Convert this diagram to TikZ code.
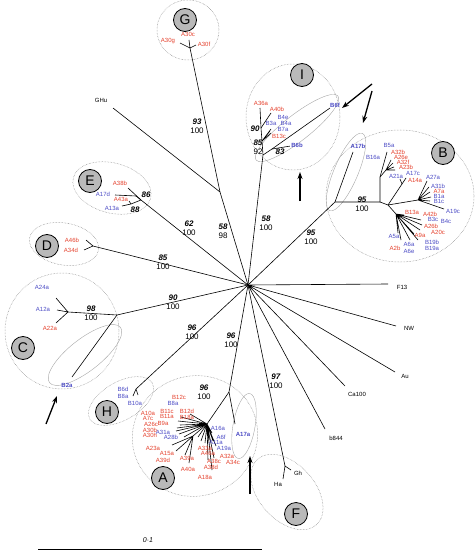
\documentclass[tikz,border=0pt]{standalone}
\usepackage{fontspec}
\setmainfont{Liberation Sans}
\usetikzlibrary{arrows.meta}

\definecolor{cladered}{RGB}{228,64,44}
\definecolor{cladeblue}{RGB}{74,74,196}

\tikzset{
  br/.style={draw=black, line width=0.6pt},
  leaf/.style={inner sep=0.3pt, font=\fontsize{6}{6}\selectfont},
  rl/.style={leaf, text=cladered},
  bl/.style={leaf, text=cladeblue},
  bbl/.style={leaf, text=cladeblue, font=\fontsize{6}{6}\selectfont\bfseries},
  kl/.style={leaf, text=black},
  bs/.style={inner sep=0pt, align=center, font=\fontsize{8}{9}\selectfont},
  bsone/.style={inner sep=0pt, font=\fontsize{8}{9}\selectfont\bfseries\itshape},
  clade/.style={circle, draw=black, line width=0.8pt, fill=gray!55, minimum size=23pt,
    inner sep=0pt, font=\fontsize{14}{14}\selectfont},
  grp/.style={draw=gray, densely dotted, line width=0.5pt},
  inner/.style={draw=gray!70, line width=0.4pt},
  pointer/.style={-{Stealth[length=7pt,width=5pt]}, line width=1.3pt},
}
\newcommand{\bt}[2]{\textbf{\textit{#1}}\\#2}

\begin{document}
\begin{tikzpicture}[x=1pt,y=1pt]
\useasboundingbox (0,0) rectangle (474,-553);

% dotted clusters
\draw[grp] (188,-30) ellipse [x radius=31, y radius=30];
\draw[grp] (293,-117) ellipse [x radius=47, y radius=53];
\draw[grp] (400,-196) ellipse [x radius=74, y radius=66];
\draw[grp] (112,-188) ellipse [x radius=40, y radius=25, rotate=-15];
\draw[grp] (64,-244) ellipse [x radius=35, y radius=21, rotate=-10];
\draw[grp] (62,-331) ellipse [x radius=57, y radius=58];
\draw[grp] (121,-401) ellipse [x radius=36, y radius=19, rotate=30];
\draw[grp] (195,-436) ellipse [x radius=63, y radius=60, rotate=20];
\draw[grp] (287,-492) ellipse [x radius=44, y radius=28, rotate=-48];
% inner grey rings
\draw[inner] (297,-128) ellipse [x radius=52, y radius=13, rotate=38];
\draw[inner] (346,-172) ellipse [x radius=42, y radius=12, rotate=67];
\draw[inner] (85,-355) ellipse [x radius=45, y radius=16, rotate=38];
\draw[inner] (244,-426) ellipse [x radius=33, y radius=11, rotate=80];

\coordinate (hub) at (248,-285);

% G and GHu
\coordinate (gj) at (220,-192);
\coordinate (gr) at (190,-48);
\coordinate (ghu) at (113,-108);
\draw[br] (hub) -- (gj) -- (gr);
\draw[br] (gj) -- (ghu);
\draw[br] (gr) -- (180,-43) (gr) -- (189,-40) (gr) -- (196,-45);
\node[kl] (GHu) at (101,-100) {GHu};
\node[rl] (A30c) at (188,-34) {A30c};
\node[rl] (A30g) at (168,-41) {A30g};
\node[rl] (A30f) at (204,-44) {A30f};
\node[bs] (bs58a) at (223,-231) {\bt{58}{98}};
\node[bs] (bs93) at (197,-126) {\bt{93}{100}};

% I
\coordinate (ir) at (263,-155);
\coordinate (i85) at (262,-141);
\coordinate (i90) at (261,-128);
\coordinate (ia36) at (260,-108);
\coordinate (i83) at (272,-149);
\coordinate (ib6f) at (330,-108);
\draw[br] (hub) -- (ir) -- (i85) -- (i90) -- (ia36);
\draw[br] (i90) -- (271,-113);
\draw[br] (i85) -- (270,-131) (i85) -- (271,-133) (i85) -- (269,-135) (i85) -- (271,-129);
\draw[br] (ir) -- (i83) -- (ib6f);
\node[rl] (A36a) at (261,-103) {A36a};
\node[rl] (A40b) at (277,-109) {A40b};
\node[bl] (B3a) at (271,-123) {B3a};
\node[bl] (B4e) at (283,-117) {B4e};
\node[bl] (B4a) at (286,-123) {B4a};
\node[bl] (B7a) at (283,-129) {B7a};
\node[rl] (B13c) at (279,-136) {B13c};
\node[bbl] (B6f) at (335,-105) {B6f};
\node[bbl] (B6b) at (297,-145) {B6b};
\draw[br, shorten >=1pt] (i83) -- (B6b);
\node[bsone] (bs90i) at (255,-129) {90};
\node[bs] (bs85i) at (258,-147) {\bt{85}{92}};
\node[bsone] (bs83i) at (280,-152) {83};
\node[bs] (bs58b) at (266,-223) {\bt{58}{100}};

% B
\coordinate (br0) at (335,-202);
\coordinate (b95) at (380,-202);
\coordinate (ba17b) at (353,-152);
\coordinate (bu) at (380,-177);
\coordinate (bu2) at (386,-170);
\coordinate (bm) at (388,-205);
\coordinate (b14) at (402,-184);
\coordinate (bb1) at (418,-200);
\coordinate (bb13) at (396,-214);
\draw[br] (hub) -- (br0) -- (b95);
\draw[br] (br0) -- (ba17b);
\draw[br] (b95) -- (bu) -- (387,-152);
\draw[br] (bu) -- (bu2);
\draw[br] (bu2) -- (391,-160) (bu2) -- (393,-163) (bu2) -- (394,-167) (bu2) -- (395,-170);
\draw[br] (b95) -- (bm);
\draw[br] (bm) -- (b14);
\draw[br] (b14) -- (400,-179) (b14) -- (406,-178);
\draw[br] (bm) -- (bb1);
\draw[br] (bb1) -- (427,-181) (bb1) -- (429,-187) (bb1) -- (430,-192) (bb1) -- (431,-197)
  (bb1) -- (430,-201) (bb1) -- (444,-209);
\draw[br] (bm) -- (bb13);
\draw[br] (bb13) -- (404,-215) (bb13) -- (421,-220) (bb13) -- (422,-225) (bb13) -- (420,-230)
  (bb13) -- (414,-234) (bb13) -- (418,-240) (bb13) -- (410,-240) (bb13) -- (401,-240) (bb13) -- (398,-233);
\node[bbl] (A17b) at (358,-146) {A17b};
\node[bl] (B5a) at (389,-145) {B5a};
\node[bl] (B16a) at (373,-157) {B16a};
\node[rl] (A32b) at (398,-152) {A32b};
\node[rl] (A26e) at (401,-157) {A26e};
\node[rl] (A32f) at (403,-162) {A32f};
\node[rl] (A23b) at (406,-167) {A23b};
\node[bl] (A21a) at (396,-176) {A21a};
\node[bl] (A17c) at (413,-173) {A17c};
\node[rl] (A14a) at (415,-180) {A14a};
\node[bl] (A27a) at (433,-177) {A27a};
\node[bl] (A31b) at (438,-186) {A31b};
\node[rl] (A7a) at (439,-191) {A7a};
\node[bl] (B1a) at (439,-196) {B1a};
\node[bl] (B1c) at (439,-201) {B1c};
\node[bl] (A19c) at (453,-211) {A19c};
\node[rl] (B13a) at (412,-212) {B13a};
\node[rl] (A42b) at (430,-214) {A42b};
\node[bl] (B3c) at (433,-219) {B3c};
\node[bl] (B4c) at (446,-221) {B4c};
\node[rl] (A26b) at (431,-226) {A26b};
\node[rl] (A20c) at (438,-232) {A20c};
\node[rl] (A9a) at (420,-235) {A9a};
\node[bl] (B19b) at (432,-242) {B19b};
\node[bl] (B19a) at (432,-248) {B19a};
\node[bl] (A5a) at (394,-236) {A5a};
\node[bl] (A6a) at (409,-244) {A6a};
\node[rl] (A2b) at (395,-248) {A2b};
\node[bl] (A6e) at (409,-251) {A6e};
\node[bs] (bs95a) at (311,-237) {\bt{95}{100}};
\node[bs] (bs95b) at (362,-204) {\bt{95}{100}};

% outgroups
\coordinate (f13) at (388,-284);
\coordinate (nw) at (396,-326);
\coordinate (au) at (395,-372);
\coordinate (ca) at (345,-386);
\coordinate (b8) at (325,-429);
\draw[br] (hub) -- (f13) (hub) -- (nw) (hub) -- (au) (hub) -- (ca) (hub) -- (b8);
\node[kl] (F13) at (402,-287) {F13};
\node[kl] (NW) at (409,-328) {NW};
\node[kl] (Au) at (405,-376) {Au};
\node[kl] (Ca100) at (357,-394) {Ca100};
\node[kl] (b844) at (336,-438) {b844};

% F
\coordinate (fr) at (285,-466);
\draw[br] (hub) -- (fr);
\draw[br] (fr) -- (291,-470) (fr) -- (283,-479);
\node[kl] (Gh) at (298,-473) {Gh};
\node[kl] (Ha) at (278,-484) {Ha};
\node[bs] (bs97) at (276,-381) {\bt{97}{100}};

% A
\coordinate (ar) at (229,-392);
\coordinate (a17) at (235,-424);
\coordinate (af) at (207,-424);
\coordinate (as) at (193,-436);
\draw[br] (hub) -- (ar) -- (a17);
\draw[br] (ar) -- (af) -- (as);
\draw[br] (as) -- (172,-445) (as) -- (176,-451) (as) -- (185,-455) (as) -- (189,-463);
\draw[br] (af) -- (181,-417) (af) -- (178,-421) (af) -- (180,-425) (af) -- (177,-428)
  (af) -- (176,-431) (af) -- (179,-434) (af) -- (184,-437) (af) -- (190,-414);
\draw[br] (af) -- (209,-428) (af) -- (212,-433) (af) -- (212,-437) (af) -- (209,-440)
  (af) -- (213,-441) (af) -- (216,-446) (af) -- (205,-443) (af) -- (201,-441) (af) -- (198,-437)
  (af) -- (214,-458) (af) -- (208,-460) (af) -- (212,-470);
\node[bbl] (A17a) at (243,-434) {A17a};
\node[rl] (B12c) at (179,-397) {B12c};
\node[bl] (B8a) at (173,-403) {B8a};
\node[rl] (A10a) at (148,-413) {A10a};
\node[rl] (B11c) at (167,-411) {B11c};
\node[rl] (B11a) at (167,-416) {B11a};
\node[rl] (B12d) at (187,-411) {B12d};
\node[rl] (B18a) at (187,-417) {B18a};
\node[rl] (A7c) at (148,-418) {A7c};
\node[rl] (B9a) at (163,-423) {B9a};
\node[rl] (A26c) at (151,-424) {A26c};
\node[rl] (A30b) at (150,-430) {A30b};
\node[rl] (A30h) at (150,-435) {A30h};
\node[bl] (A31a) at (163,-432) {A31a};
\node[bl] (A28b) at (171,-437) {A28b};
\node[bl] (A16a) at (218,-428) {A16a};
\node[bl] (A6f) at (221,-437) {A6f};
\node[bl] (A11a) at (216,-442) {A11a};
\node[bl] (A19a) at (224,-448) {A19a};
\node[rl] (A33a) at (205,-448) {A33a};
\node[rl] (A46a) at (208,-453) {A46a};
\node[rl] (A32a) at (227,-456) {A32a};
\node[rl] (A38c) at (214,-461) {A38c};
\node[rl] (A34c) at (233,-462) {A34c};
\node[rl] (A38d) at (211,-467) {A38d};
\node[rl] (A18a) at (205,-477) {A18a};
\node[rl] (A23a) at (153,-448) {A23a};
\node[rl] (A15a) at (167,-453) {A15a};
\node[rl] (A39d) at (163,-460) {A39d};
\node[rl] (A39a) at (187,-458) {A39a};
\node[rl] (A40a) at (188,-469) {A40a};
\node[bs] (bs96a) at (231,-340) {\bt{96}{100}};
\node[bs] (bs96b) at (204,-392) {\bt{96}{100}};

% H
\coordinate (hr) at (136,-389);
\draw[br] (hub) -- (hr);
\draw[br] (hr) -- (133,-396) (hr) -- (138,-395);
\node[bl] (B6d) at (123,-389) {B6d};
\node[bl] (B8aH) at (123,-396) {B8a};
\node[bl] (B10a) at (135,-403) {B10a};
\node[bs] (bs96c) at (192,-332) {\bt{96}{100}};

% C
\coordinate (cr) at (117,-315);
\coordinate (cs) at (68,-312);
\coordinate (cb2) at (72,-377);
\draw[br] (hub) -- (cr) -- (cs);
\draw[br] (cs) -- (56,-298) (cs) -- (57,-310) (cs) -- (56,-323);
\draw[br] (cr) -- (cb2);
\node[bl] (A24a) at (42,-287) {A24a};
\node[bl] (A12a) at (43,-309) {A12a};
\node[rl] (A22a) at (50,-328) {A22a};
\node[bbl] (B2a) at (67,-385) {B2a};
\node[bs] (bs90) at (173,-302) {\bt{90}{100}};
\node[bs] (bs98) at (91,-313) {\bt{98}{100}};

% D
\coordinate (dr) at (93,-246);
\draw[br] (hub) -- (dr);
\draw[br] (dr) -- (86,-240) (dr) -- (84,-250);
\node[rl] (A46b) at (72,-240) {A46b};
\node[rl] (A34d) at (71,-250) {A34d};
\node[bs] (bs85) at (163,-262) {\bt{85}{100}};

% E
\coordinate (er) at (141,-200);
\coordinate (e86) at (136,-196);
\coordinate (e88) at (131,-204);
\draw[br] (hub) -- (er) -- (128,-188);
\draw[br] (er) -- (e86) -- (115,-195);
\draw[br] (er) -- (e88) -- (122,-206);
\draw[br] (e88) -- (129,-201);
\node[rl] (A38b) at (120,-183) {A38b};
\node[bl] (A17d) at (103,-194) {A17d};
\node[rl] (A43a) at (121,-199) {A43a};
\node[bl] (A13a) at (112,-208) {A13a};
\node[bsone] (bs86) at (146,-195) {86};
\node[bsone] (bs88) at (135,-210) {88};
\node[bs] (bs62) at (189,-228) {\bt{62}{100}};

% clade letters
\node[clade] (cG) at (185,-20) {G};
\node[clade] (cI) at (302,-75) {I};
\node[clade] (cB) at (443,-153) {B};
\node[clade] (cE) at (90,-181) {E};
\node[clade] (cD) at (47,-246) {D};
\node[clade] (cC) at (23,-348) {C};
\node[clade] (cH) at (107,-412) {H};
\node[clade] (cA) at (163,-478) {A};
\node[clade] (cF) at (296,-514) {F};

% arrows
\coordinate (p1) at (372,-84);
\coordinate (p2) at (372,-91);
\coordinate (p3) at (300,-201);
\coordinate (p4) at (46,-424);
\coordinate (p5) at (250,-494);
\draw[pointer] (p1) -- (342,-108);
\draw[pointer] (p2) -- (363,-123);
\draw[pointer] (p3) -- (300,-172);
\draw[pointer] (p4) -- (57,-396);
\draw[pointer] (p5) -- (250,-456);

% scale
\coordinate (sl) at (38,-549);
\coordinate (sr) at (262,-549);
\draw[line width=1pt] (sl) -- (sr);
\node[inner sep=0pt, font=\fontsize{7}{7}\selectfont\itshape] (scl) at (148,-540) {0·1};
\end{tikzpicture}
\end{document}
